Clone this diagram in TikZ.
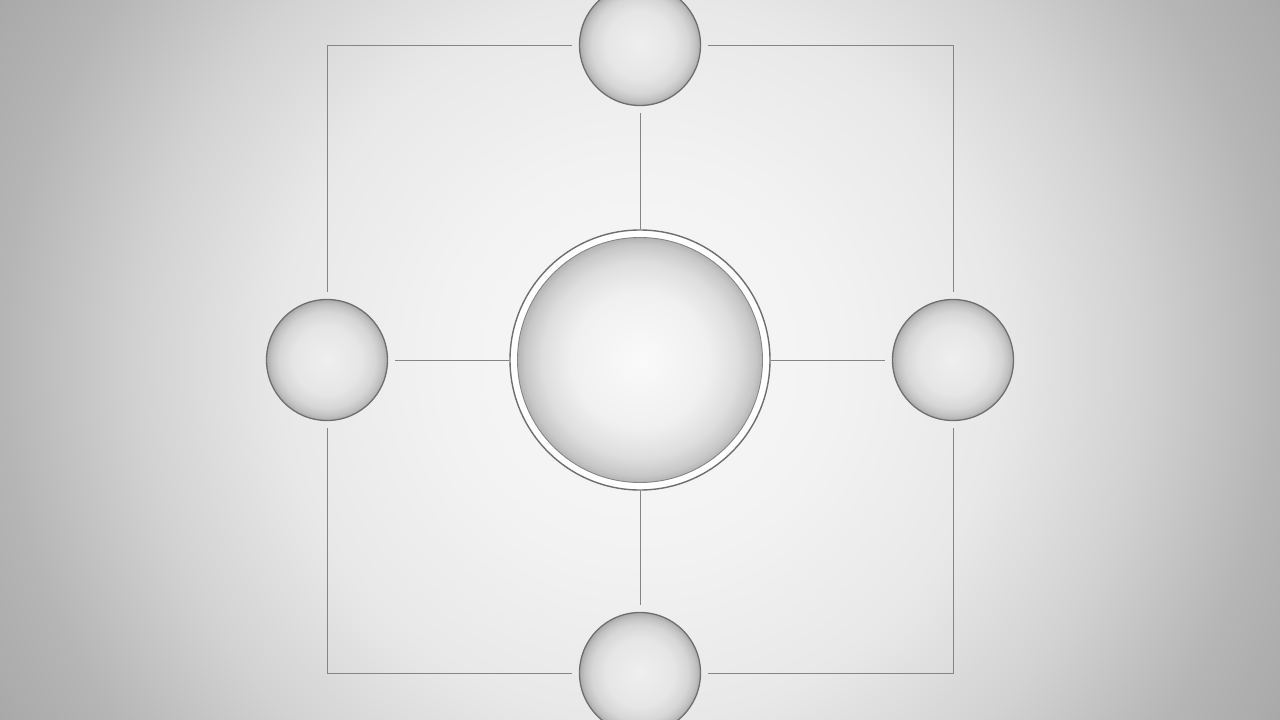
\documentclass[tikz,border=0pt]{standalone}
\usetikzlibrary{shadings}
\definecolor{bgA}{HTML}{F9F9F9}
\definecolor{bgB}{HTML}{F2F2F2}
\definecolor{bgC}{HTML}{E8E8E8}
\definecolor{bgD}{HTML}{D2D2D2}
\definecolor{bgE}{HTML}{B5B5B5}
\definecolor{bgF}{HTML}{A8A8A8}
\definecolor{ballA}{HTML}{EFEFEF}
\definecolor{ballB}{HTML}{E6E6E6}
\definecolor{ballC}{HTML}{D6D6D6}
\definecolor{ballD}{HTML}{C2C2C2}
\definecolor{ballE}{HTML}{AAAAAA}
\definecolor{bigA}{HTML}{FAFAFA}
\definecolor{bigB}{HTML}{F0F0F0}
\definecolor{bigC}{HTML}{DEDEDE}
\definecolor{bigD}{HTML}{C8C8C8}
\definecolor{bigE}{HTML}{B4B4B4}
\definecolor{edgegray}{HTML}{6E6E6E}
\definecolor{linegray}{HTML}{858585}
\pgfdeclareradialshading{bgshade}{\pgfpoint{0bp}{0bp}}{color(0bp)=(bgA); color(6.8bp)=(bgB); color(12.2bp)=(bgC); color(16.9bp)=(bgD); color(21.6bp)=(bgE); color(25bp)=(bgF); color(50bp)=(bgF)}
\pgfdeclareradialshading{ballshade}{\pgfpoint{0bp}{0bp}}{color(0bp)=(ballA); color(14bp)=(ballB); color(20bp)=(ballC); color(23bp)=(ballD); color(25bp)=(ballE); color(50bp)=(ballE)}
\pgfdeclareradialshading{bigshade}{\pgfpoint{0bp}{0bp}}{color(0bp)=(bigA); color(14bp)=(bigB); color(20bp)=(bigC); color(23.5bp)=(bigD); color(25bp)=(bigE); color(50bp)=(bigE)}
\tikzset{
  ball/.style={circle, inner sep=0pt, minimum size=121pt, shading=ballshade, draw=edgegray, line width=1.3pt},
  ring/.style={circle, inner sep=0pt, minimum size=260pt, fill=white, draw=edgegray, line width=1.4pt},
  core/.style={circle, inner sep=0pt, minimum size=245pt, shading=bigshade, draw=linegray, line width=0.9pt},
  conn/.style={draw=linegray, line width=1pt}
}
\begin{document}
\begin{tikzpicture}[x=1pt,y=-1pt]
\useasboundingbox (0,0) rectangle (1280,720);
\begin{scope}
\clip (0,0) rectangle (1280,720);
\shade[shading=bgshade] (640,360) circle[radius=740pt];
\end{scope}
\node[ring] (center) at (640,360) {};
\node[core] (core) at (640,360) {};
\node[ball] (top) at (640,45) {};
\node[ball] (left) at (327,360) {};
\node[ball] (right) at (953,360) {};
\node[ball] (bottom) at (640,673) {};
\coordinate (tl) at (327,45);
\coordinate (tr) at (953,45);
\coordinate (bl) at (327,673);
\coordinate (br) at (953,673);
\draw[conn, shorten <=7pt] (top) -- (center);
\draw[conn, shorten <=7pt] (bottom) -- (center);
\draw[conn, shorten <=7pt] (left) -- (center);
\draw[conn, shorten <=7pt] (right) -- (center);
\draw[conn, shorten <=7pt, shorten >=7pt] (top) -- (tl) -- (left);
\draw[conn, shorten <=7pt, shorten >=7pt] (top) -- (tr) -- (right);
\draw[conn, shorten <=7pt, shorten >=7pt] (bottom) -- (bl) -- (left);
\draw[conn, shorten <=7pt, shorten >=7pt] (bottom) -- (br) -- (right);
\end{tikzpicture}
\end{document}
